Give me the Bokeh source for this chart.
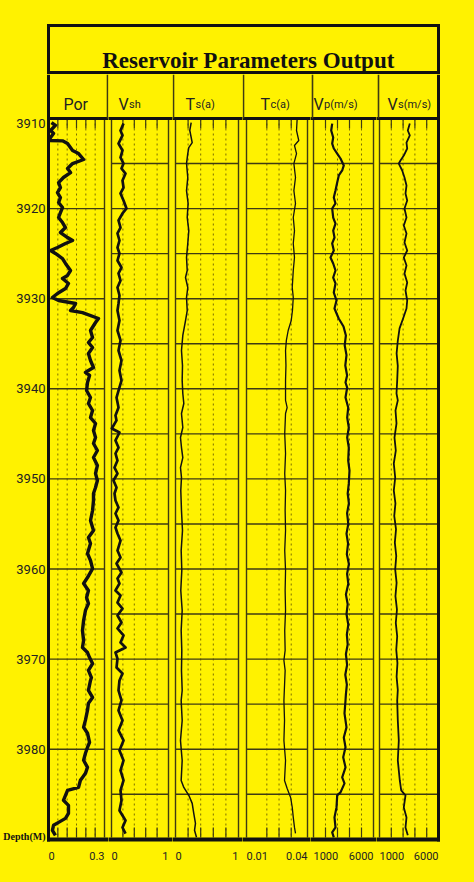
from bokeh.plotting import figure
from bokeh.layouts import column, row
from bokeh.models import Range1d
from bokeh.core.properties import value
from bokeh.embed import file_html
from bokeh.resources import INLINE

# ---------------- data ----------------
title_text = "Reservoir Parameters Output"
depth_label_text = "Depth(M)"
top_depth = 3910
bottom_depth = 3989.8
depth_ticks = [3920, 3930, 3940, 3950, 3960, 3970, 3980]
coarse_lines = [3920, 3930, 3940, 3950, 3960, 3970, 3980]
fine_lines = [3915, 3920, 3925, 3930, 3935, 3940, 3945, 3950, 3955, 3960,
              3965, 3970, 3975, 3980, 3985]

header_main = ["Por", "V", "T", "T", "V", "V"]
header_sub = ["", "sh", "s(a)", "c(a)", "p(m/s)", "s(m/s)"]
scale_min = [0, 0, 0, 0.01, 1000, 1000]
scale_max = [0.3, 1, 1, 0.04, 6000, 6000]
scale_min_text = ["0", "0", "0", "0.01", "1000", "1000"]
scale_max_text = ["0.3", "1", "1", "0.04", "6000", "6000"]
scale_grid = [[0.05, 0.1, 0.15, 0.2, 0.25],
              [0.2, 0.4, 0.6, 0.8],
              [0.2, 0.4, 0.6, 0.8],
              [0.02, 0.026, 0.032],
              [2000, 3000, 4000, 5000],
              [2000, 3000, 4000, 5000]]

por_depth = [3910.45, 3910.77, 3911.33, 3911.67, 3912.11, 3912.44, 3912.48, 3912.78, 3913.55, 3913.89,
             3914.55, 3915.00, 3915.55, 3916.00, 3916.55, 3917.11, 3917.66, 3918.22, 3918.77, 3919.33,
             3919.88, 3920.44, 3920.99, 3921.55, 3922.10, 3922.66, 3923.21, 3923.54, 3923.87, 3924.32,
             3924.65, 3924.98, 3925.54, 3926.09, 3926.87, 3927.42, 3927.76, 3928.31, 3928.87, 3929.42,
             3929.87, 3930.20, 3930.53, 3930.98, 3931.31, 3931.54, 3932.20, 3932.64, 3933.53, 3934.31,
             3934.86, 3935.42, 3936.08, 3936.86, 3937.64, 3937.97, 3938.19, 3938.52, 3939.30, 3940.19,
             3940.97, 3941.63, 3942.41, 3943.19, 3943.85, 3944.63, 3945.41, 3946.07, 3946.85, 3947.63,
             3948.51, 3949.40, 3950.18, 3950.96, 3951.62, 3952.40, 3953.51, 3954.62, 3955.73, 3956.51,
             3957.17, 3958.28, 3959.06, 3959.95, 3960.95, 3961.61, 3962.38, 3963.17, 3963.83, 3964.60,
             3965.71, 3966.82, 3967.93, 3968.72, 3969.27, 3969.83, 3970.49, 3971.26, 3972.05, 3972.37,
             3973.48, 3974.26, 3974.89, 3975.67, 3976.78, 3977.56, 3978.23, 3979.23, 3979.79, 3980.45,
             3981.23, 3982.01, 3982.68, 3983.13, 3983.45, 3984.24, 3984.56, 3985.12, 3985.67, 3986.23,
             3987.12, 3987.68, 3988.12, 3988.45, 3989.00, 3989.56]
por_value = [0.016, 0.037, 0.011, 0.027, 0.011, 0.005, 0.075, 0.102, 0.129, 0.161,
             0.188, 0.129, 0.102, 0.118, 0.080, 0.054, 0.064, 0.048, 0.064, 0.054,
             0.075, 0.064, 0.054, 0.075, 0.091, 0.064, 0.102, 0.129, 0.091, 0.048,
             0.011, 0.037, 0.075, 0.091, 0.118, 0.102, 0.075, 0.107, 0.091, 0.048,
             0.021, 0.054, 0.145, 0.134, 0.118, 0.182, 0.268, 0.252, 0.225, 0.236,
             0.214, 0.236, 0.214, 0.225, 0.241, 0.214, 0.198, 0.220, 0.209, 0.204,
             0.225, 0.214, 0.236, 0.225, 0.252, 0.241, 0.252, 0.241, 0.262, 0.241,
             0.262, 0.252, 0.262, 0.252, 0.241, 0.241, 0.236, 0.225, 0.241, 0.214,
             0.225, 0.209, 0.225, 0.236, 0.209, 0.188, 0.214, 0.204, 0.214, 0.198,
             0.188, 0.182, 0.188, 0.182, 0.209, 0.220, 0.236, 0.214, 0.230, 0.225,
             0.214, 0.236, 0.214, 0.209, 0.198, 0.188, 0.209, 0.220, 0.209, 0.198,
             0.188, 0.209, 0.198, 0.182, 0.171, 0.161, 0.102, 0.091, 0.080, 0.107,
             0.107, 0.091, 0.054, 0.027, 0.021, 0.037]

vsh_depth = [3910.56, 3911.33, 3911.88, 3912.78, 3913.55, 3914.33, 3915.00, 3915.55, 3916.11, 3916.88,
             3917.66, 3918.32, 3919.10, 3919.99, 3920.54, 3921.32, 3922.10, 3922.76, 3923.54, 3924.32,
             3924.98, 3925.76, 3926.54, 3927.20, 3927.98, 3928.76, 3929.64, 3930.53, 3931.31, 3932.42,
             3933.53, 3934.63, 3935.75, 3936.86, 3937.97, 3939.08, 3940.19, 3940.97, 3942.08, 3942.96,
             3943.51, 3944.40, 3944.85, 3945.73, 3946.52, 3947.18, 3947.96, 3948.74, 3949.40, 3950.18,
             3950.96, 3951.62, 3952.40, 3953.17, 3953.84, 3954.62, 3955.40, 3956.06, 3956.84, 3957.95,
             3958.73, 3959.39, 3960.39, 3961.05, 3961.61, 3962.38, 3962.94, 3963.72, 3964.39, 3965.16,
             3965.94, 3966.60, 3967.37, 3968.16, 3968.72, 3969.27, 3969.94, 3970.94, 3971.60, 3972.37,
             3973.48, 3974.59, 3975.70, 3976.81, 3977.92, 3979.03, 3980.14, 3981.25, 3982.36, 3983.47,
             3984.58, 3985.69, 3986.80, 3987.91, 3988.69, 3989.36]
vsh_value = [0.211, 0.158, 0.193, 0.123, 0.193, 0.158, 0.211, 0.175, 0.246, 0.193,
             0.211, 0.158, 0.211, 0.263, 0.193, 0.123, 0.158, 0.105, 0.140, 0.105,
             0.140, 0.105, 0.175, 0.123, 0.158, 0.105, 0.140, 0.123, 0.105, 0.140,
             0.105, 0.158, 0.123, 0.175, 0.140, 0.175, 0.123, 0.088, 0.123, 0.070,
             0.088, 0.005, 0.140, 0.070, 0.123, 0.070, 0.105, 0.053, 0.105, 0.035,
             0.088, 0.053, 0.070, 0.123, 0.070, 0.123, 0.070, 0.105, 0.158, 0.105,
             0.158, 0.088, 0.175, 0.105, 0.140, 0.070, 0.158, 0.105, 0.193, 0.105,
             0.175, 0.105, 0.211, 0.158, 0.246, 0.070, 0.105, 0.088, 0.193, 0.140,
             0.123, 0.175, 0.123, 0.193, 0.123, 0.211, 0.140, 0.211, 0.158, 0.211,
             0.158, 0.175, 0.140, 0.246, 0.193, 0.246]

ts_depth = [3910.45, 3911.33, 3912.67, 3913.23, 3913.89, 3915.00, 3916.55, 3918.00, 3919.43, 3920.99,
            3922.44, 3923.87, 3925.43, 3926.87, 3927.65, 3928.76, 3929.87, 3931.31, 3932.42, 3934.08,
            3935.75, 3937.41, 3939.08, 3940.52, 3941.63, 3942.74, 3944.30, 3945.41, 3946.52, 3947.63,
            3948.74, 3949.85, 3951.29, 3953.51, 3955.73, 3957.95, 3960.17, 3962.38, 3964.60, 3966.82,
            3969.04, 3971.26, 3973.48, 3974.59, 3976.81, 3979.03, 3981.25, 3983.47, 3984.24, 3985.12,
            3986.01, 3987.12, 3988.23, 3989.00, 3989.78]
ts_value = [0.249, 0.227, 0.265, 0.211, 0.195, 0.175, 0.195, 0.175, 0.200, 0.186,
            0.211, 0.195, 0.175, 0.186, 0.159, 0.195, 0.175, 0.186, 0.159, 0.116,
            0.095, 0.111, 0.106, 0.116, 0.132, 0.095, 0.116, 0.079, 0.095, 0.116,
            0.079, 0.095, 0.084, 0.095, 0.111, 0.090, 0.100, 0.084, 0.106, 0.090,
            0.100, 0.095, 0.106, 0.090, 0.106, 0.079, 0.106, 0.090, 0.132, 0.211,
            0.265, 0.290, 0.317, 0.302, 0.333]

tc_depth = [3910.10, 3911.33, 3912.44, 3913.00, 3913.89, 3915.00, 3916.55, 3918.00, 3919.43, 3920.99,
            3922.44, 3923.87, 3925.43, 3926.87, 3928.76, 3929.87, 3931.31, 3932.42, 3933.53, 3934.63,
            3935.75, 3937.41, 3939.08, 3941.29, 3942.08, 3942.74, 3944.96, 3947.18, 3949.40, 3951.29,
            3953.51, 3955.73, 3957.95, 3960.17, 3962.38, 3964.60, 3966.82, 3969.04, 3970.15, 3971.26,
            3974.59, 3976.81, 3979.03, 3981.25, 3983.47, 3984.36, 3985.36, 3986.46, 3987.57, 3988.68,
            3989.34]
tc_value = [0.0349, 0.0346, 0.0357, 0.0336, 0.0346, 0.0333, 0.0341, 0.0333, 0.0341, 0.0330,
            0.0336, 0.0330, 0.0336, 0.0330, 0.0325, 0.0330, 0.0326, 0.0320, 0.0305, 0.0296,
            0.0292, 0.0294, 0.0292, 0.0292, 0.0300, 0.0292, 0.0288, 0.0292, 0.0288, 0.0292,
            0.0290, 0.0292, 0.0288, 0.0292, 0.0290, 0.0292, 0.0288, 0.0290, 0.0284, 0.0290,
            0.0284, 0.0287, 0.0284, 0.0292, 0.0287, 0.0300, 0.0317, 0.0325, 0.0330, 0.0336,
            0.0341]

vp_depth = [3910.56, 3911.33, 3912.11, 3912.78, 3913.33, 3913.89, 3914.44, 3915.21, 3915.77, 3916.32,
            3917.11, 3918.00, 3918.77, 3919.43, 3919.99, 3920.99, 3921.66, 3922.44, 3923.21, 3923.87,
            3924.65, 3925.43, 3926.09, 3926.87, 3927.65, 3928.31, 3929.32, 3930.20, 3931.09, 3932.20,
            3933.09, 3934.08, 3935.17, 3936.26, 3937.41, 3938.52, 3939.30, 3939.86, 3940.97, 3942.08,
            3943.19, 3944.30, 3945.41, 3946.52, 3947.96, 3949.07, 3950.50, 3951.62, 3952.71, 3953.80,
            3954.99, 3956.08, 3957.17, 3958.36, 3959.45, 3960.54, 3961.63, 3962.82, 3963.91, 3965.00,
            3966.19, 3967.28, 3968.37, 3969.46, 3970.65, 3971.74, 3972.83, 3973.92, 3974.59, 3976.03,
            3977.58, 3978.70, 3979.79, 3980.90, 3982.01, 3983.13, 3983.79, 3984.79, 3985.12, 3986.46,
            3987.57, 3988.68, 3989.23, 3989.78]
vp_value = [2558, 2475, 2642, 2558, 2692, 2975, 3250, 3525, 3392, 3108,
            2975, 2833, 2692, 2833, 2558, 2642, 2833, 2642, 2750, 2558,
            2692, 2417, 2642, 2833, 2642, 2833, 2692, 2917, 2750, 3100,
            3500, 3700, 3600, 3750, 3650, 3800, 3667, 3808, 3667, 3892,
            3808, 3942, 3808, 3942, 3892, 4000, 3942, 3850, 3950, 3800,
            3900, 3750, 3880, 3780, 3950, 3800, 3900, 3700, 3850, 3750,
            3900, 3780, 3850, 3700, 3800, 3650, 3780, 3700, 3667, 3583,
            3750, 3525, 3667, 3475, 3667, 3392, 3583, 3250, 2975, 2917,
            2750, 2833, 2558, 2692]

vs_depth = [3910.56, 3911.33, 3911.88, 3912.67, 3913.33, 3914.11, 3914.66, 3915.00, 3915.77, 3916.55,
            3917.44, 3918.32, 3919.10, 3919.99, 3920.99, 3921.88, 3922.76, 3923.76, 3924.65, 3925.43,
            3926.31, 3927.20, 3928.20, 3929.09, 3930.20, 3931.09, 3932.20, 3933.29, 3934.67, 3936.06,
            3937.45, 3939.08, 3940.52, 3941.29, 3942.41, 3943.85, 3945.41, 3946.85, 3948.29, 3949.85,
            3951.29, 3952.71, 3954.10, 3955.59, 3957.07, 3958.56, 3960.04, 3961.53, 3963.02, 3964.50,
            3965.99, 3967.47, 3968.96, 3970.45, 3971.94, 3973.42, 3974.59, 3976.81, 3979.03, 3981.25,
            3983.47, 3984.58, 3985.12, 3986.46, 3987.57, 3988.68, 3989.56]
vs_value = [3568, 3398, 3568, 3288, 3348, 3059, 2780, 2636, 2924, 3119,
            3288, 3204, 3348, 3119, 3288, 3059, 3288, 3119, 3348, 3059,
            3288, 3119, 3348, 3204, 3348, 3288, 3000, 2700, 2550, 2450,
            2550, 2500, 2441, 2551, 2356, 2441, 2271, 2381, 2212, 2331,
            2212, 2350, 2250, 2400, 2300, 2420, 2330, 2450, 2350, 2480,
            2380, 2500, 2420, 2520, 2450, 2550, 2500, 2551, 2636, 2551,
            2720, 2839, 3204, 3059, 3288, 3204, 3398]

track_depths = [por_depth, vsh_depth, ts_depth, tc_depth, vp_depth, vs_depth]
track_values = [por_value, vsh_value, ts_value, tc_value, vp_value, vs_value]

# ---------------- layout / style (page pixels) ----------------
BG = "#FFF200"
INK = "#111111"
GRIDC = "#3f3b12"
DOTC = "#7a6e00"
SANS = "Roboto"
SERIF = "Liberation Serif"

PAGE_W, PAGE_H = 474, 882
TITLE_H = 74
PLOT_TOP_PX = 118
PX_PER_M = 9.01
FIG_EDGES = [0, 108, 172, 242, 310, 376, 474]
TRACK_LO_PX = [48, 111, 175, 246, 313, 379]
TRACK_HI_PX = [104, 168, 238, 307, 373, 438]
BOX_L, BOX_R, BOX_T = 48, 438, 25
TITLE_LINE_Y = 72
BOTTOM_LINE_Y = 839
DIVIDERS = [107, 173, 243, 312, 378]
HEADER_BASE_Y = 104
LABEL_Y = 855
MAIN_X = [63, 118, 185, 260, 313, 387]
SUB_X = [0, 128.5, 195, 270, 323.5, 397.5]
LINE_W = [3.4, 2.7, 1.5, 1.3, 2.2, 1.8]
TICK_LEN = 1.1

# ---------------- title strip ----------------
tf = figure(frame_width=PAGE_W, frame_height=TITLE_H, x_range=Range1d(0, PAGE_W),
            y_range=Range1d(TITLE_H, 0), min_border_left=0, min_border_right=0,
            min_border_top=0, min_border_bottom=0, x_axis_location=None, y_axis_location=None,
            output_backend="svg", toolbar_location=None, background_fill_color=BG,
            border_fill_color=BG, outline_line_color=None)
tf.xgrid.grid_line_color = None
tf.ygrid.grid_line_color = None
tf.segment(x0=[BOX_L - 1.5, BOX_L - 1.5], y0=[BOX_T, TITLE_LINE_Y], x1=[BOX_R + 1.5, BOX_R + 1.5],
           y1=[BOX_T, TITLE_LINE_Y], line_color=INK, line_width=3)
tf.segment(x0=[BOX_L, BOX_R], y0=[BOX_T, BOX_T], x1=[BOX_L, BOX_R], y1=[TITLE_H, TITLE_H],
           line_color=INK, line_width=3)
tf.text(x=[(BOX_L + BOX_R) / 2 + 5], y=[60], text=[title_text], text_font=value(SERIF),
        text_font_style="bold", text_font_size="23px", text_align="center",
        text_baseline="alphabetic", text_color=INK)

# ---------------- tracks ----------------
y0_view = top_depth + (PAGE_H - PLOT_TOP_PX) / PX_PER_M
y1_view = top_depth - (PLOT_TOP_PX - TITLE_H) / PX_PER_M
figs = []
for i in range(6):
    lo, hi = scale_min[i], scale_max[i]
    fl, fr = FIG_EDGES[i], FIG_EDGES[i + 1]
    W = fr - fl
    per_px = (hi - lo) / (TRACK_HI_PX[i] - TRACK_LO_PX[i])
    x0 = lo - (TRACK_LO_PX[i] - fl) * per_px
    x1 = x0 + W * per_px
    p = figure(frame_width=W, frame_height=PAGE_H - TITLE_H,
               x_range=Range1d(x0, x1), y_range=Range1d(y0_view, y1_view),
               min_border_left=0, min_border_right=0, min_border_top=0, min_border_bottom=0,
               x_axis_location=None, y_axis_location=None, output_backend="svg",
               toolbar_location=None, background_fill_color=BG, border_fill_color=BG,
               outline_line_color=None)
    p.extra_x_ranges = {"px": Range1d(fl, fr)}
    p.extra_y_ranges = {"px": Range1d(PAGE_H, TITLE_H)}
    p.xgrid.grid_line_color = None
    p.ygrid.grid_line_color = None

    g = scale_grid[i]
    n = len(g)
    # dotted vertical grid inside the track
    p.segment(x0=g, x1=g, y0=[top_depth] * n, y1=[bottom_depth] * n,
              line_color=DOTC, line_width=1, line_dash="2 3")
    # horizontal depth grid inside the track
    hl = coarse_lines if i == 0 else fine_lines
    p.segment(x0=[lo] * len(hl), x1=[hi] * len(hl), y0=hl, y1=hl, line_color=GRIDC, line_width=1.4)
    # track edges
    edges = [e for k, e in enumerate([lo, hi]) if not (i == 0 and k == 0) and not (i == 5 and k == 1)]
    p.segment(x0=edges, x1=edges, y0=[top_depth] * len(edges), y1=[bottom_depth] * len(edges),
              line_color=GRIDC, line_width=1.4)
    # short solid ticks at top and bottom
    p.segment(x0=g, x1=g, y0=[top_depth] * n, y1=[top_depth + TICK_LEN] * n,
              line_color=GRIDC, line_width=1.2)
    p.segment(x0=g, x1=g, y0=[bottom_depth] * n, y1=[bottom_depth - TICK_LEN] * n,
              line_color=GRIDC, line_width=1.2)

    # frame of the whole log (page pixels)
    p.segment(x0=[BOX_L, BOX_R], x1=[BOX_L, BOX_R], y0=[TITLE_H, TITLE_H],
              y1=[BOTTOM_LINE_Y + 2, BOTTOM_LINE_Y + 2], line_color=INK, line_width=3,
              x_range_name="px", y_range_name="px")
    p.segment(x0=[BOX_L - 1.5], x1=[BOX_R + 1.5], y0=[PLOT_TOP_PX], y1=[PLOT_TOP_PX],
              line_color=INK, line_width=3, x_range_name="px", y_range_name="px")
    p.segment(x0=[BOX_L - 1.5], x1=[BOX_R + 1.5], y0=[BOTTOM_LINE_Y], y1=[BOTTOM_LINE_Y],
              line_color=INK, line_width=4, x_range_name="px", y_range_name="px")
    p.segment(x0=DIVIDERS, x1=DIVIDERS, y0=[TITLE_H] * 5, y1=[PLOT_TOP_PX] * 5,
              line_color=GRIDC, line_width=1.6, x_range_name="px", y_range_name="px")

    # column header
    p.text(x=[MAIN_X[i]], y=[HEADER_BASE_Y], text=[header_main[i]], text_font=value(SANS),
           text_font_size="16px", text_align="left", text_baseline="alphabetic",
           text_color="#222222", x_range_name="px", y_range_name="px")
    if header_sub[i]:
        p.text(x=[SUB_X[i]], y=[HEADER_BASE_Y], text=[header_sub[i]], text_font=value(SANS),
               text_font_size="11px", text_align="left", text_baseline="alphabetic",
               text_color="#222222", x_range_name="px", y_range_name="px")

    # curve
    p.line(x=track_values[i], y=track_depths[i], line_color=INK, line_width=LINE_W[i],
           line_join="round")

    # scale labels under the track
    p.text(x=[lo], y=[LABEL_Y], text=[scale_min_text[i]], text_font=value(SANS),
           text_font_size="11px", text_align="left", text_baseline="middle",
           text_color="#222222", y_range_name="px")
    p.text(x=[hi], y=[LABEL_Y], text=[scale_max_text[i]], text_font=value(SANS),
           text_font_size="11px", text_align="right", text_baseline="middle",
           text_color="#222222", y_range_name="px")

    if i == 0:
        lab_x = BOX_L - 3
        p.text(x=[lab_x] * len(depth_ticks), y=depth_ticks, text=[str(d) for d in depth_ticks],
               text_font=value(SANS), text_font_size="13px", text_align="right",
               text_baseline="middle", text_color="#222222", x_range_name="px")
        p.text(x=[lab_x], y=[top_depth], text=[str(top_depth)], text_font=value(SANS),
               text_font_size="13px", text_align="right", text_baseline="top",
               text_color="#222222", x_range_name="px")
        p.text(x=[lab_x], y=[BOTTOM_LINE_Y - 3], text=[depth_label_text], text_font=value(SERIF),
               text_font_style="bold", text_font_size="10px", text_align="right",
               text_baseline="alphabetic", text_color=INK, x_range_name="px", y_range_name="px")
    figs.append(p)

layout = column(tf, row(*figs))
html = file_html(layout, INLINE)
html = html.replace("</head>", "<style>html, body { background-color: #FFF200; }</style>\n</head>", 1)
open("out.html", "w").write(html)
